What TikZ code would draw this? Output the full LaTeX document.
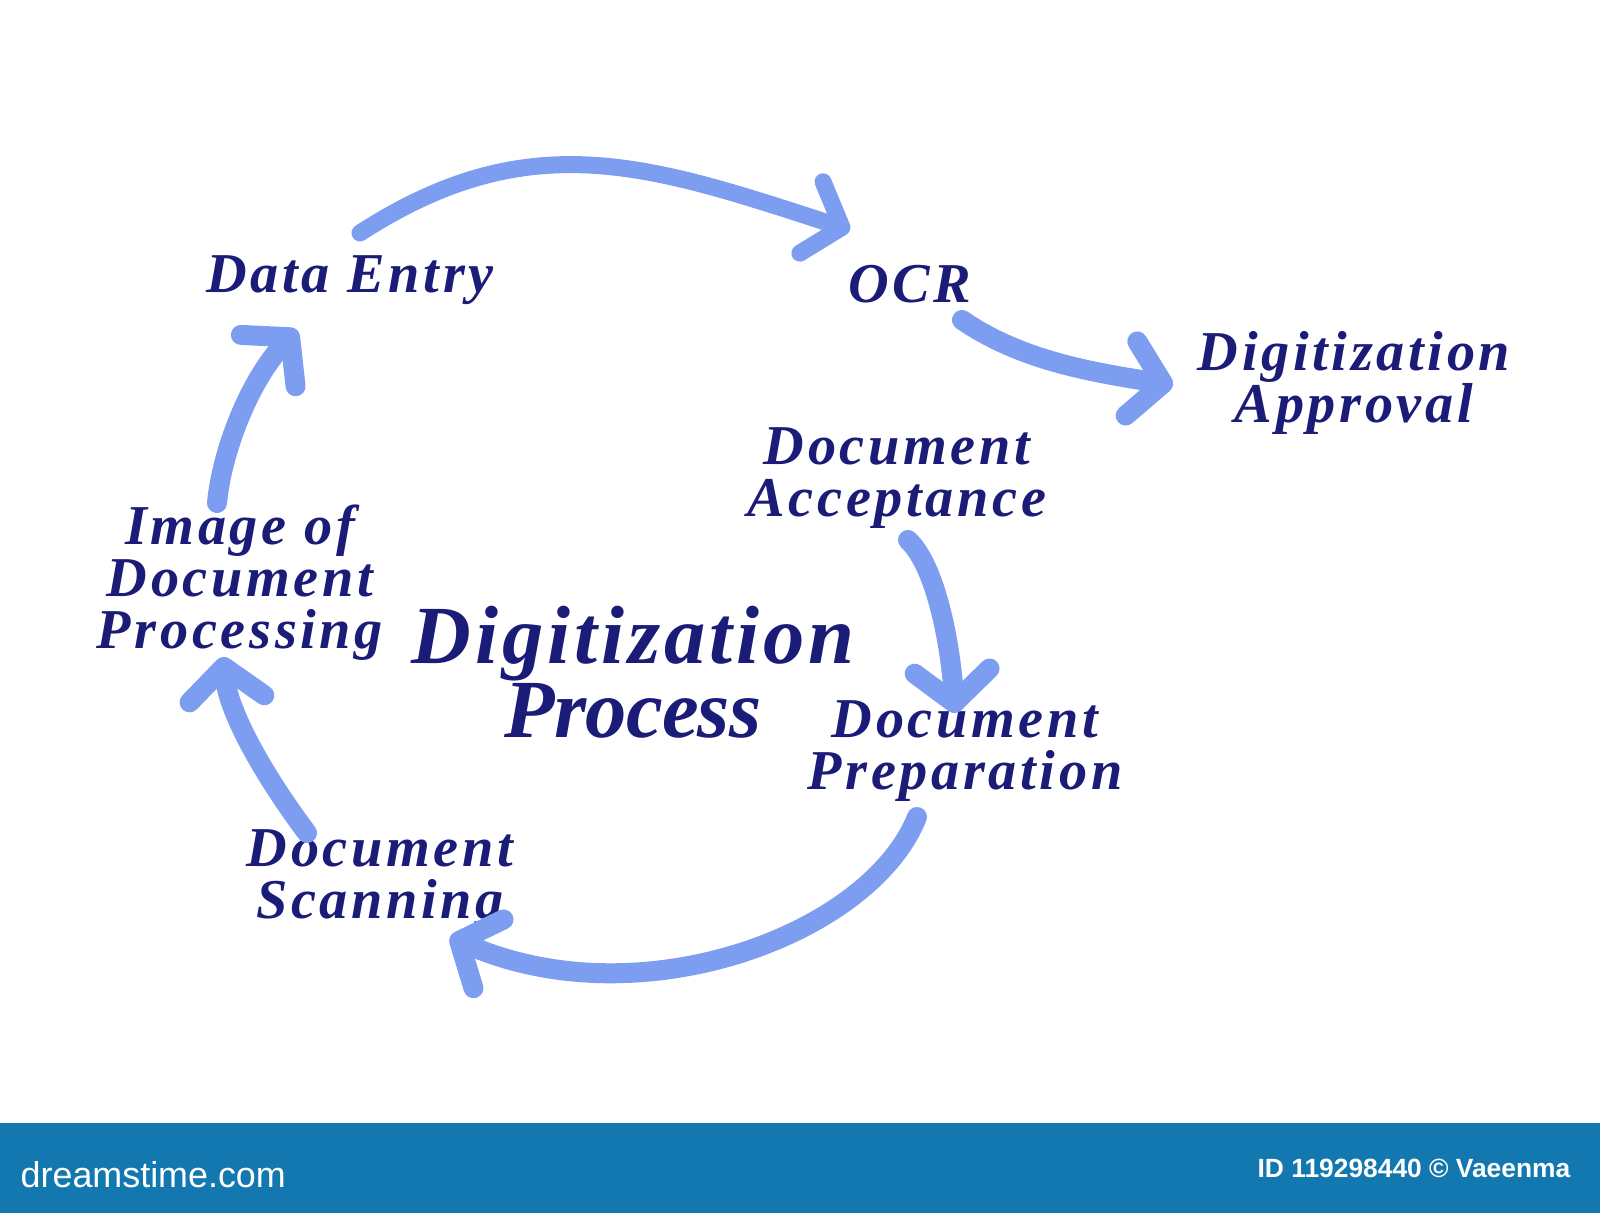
\documentclass[tikz,border=0pt]{standalone}
\usepackage{fontspec}
\setmainfont{Liberation Serif}
\newfontfamily\handfont[LetterSpace=6.5]{Liberation Serif}
\newfontfamily\titlefont[LetterSpace=4.75]{Liberation Serif}
\newfontfamily\titlefontb[LetterSpace=-1]{Liberation Serif}
\newfontfamily\barfont{Liberation Sans}
\usetikzlibrary{arrows.meta}
\definecolor{navy}{RGB}{27,27,120}
\definecolor{flowblue}{RGB}{125,157,240}
\definecolor{barblue}{RGB}{18,120,175}
\newcommand\steptext{\handfont\fontsize{16}{14.8}\selectfont\bfseries\itshape\lineskiplimit=-20pt\relax}
\newcommand\titletext{\titlefont\fontsize{23.5}{21}\selectfont\bfseries\itshape\lineskiplimit=-20pt\relax}

\begin{document}
\begin{tikzpicture}[x=0.01cm,y=-0.01cm,
  lbl/.style={text=navy,align=center,font=\steptext},
  flow/.style={draw=flowblue,line width=0.2cm,line cap=round,
    -{Straight Barb[round,length=0.32cm,width=0.75cm]}}]

\useasboundingbox (0,0) rectangle (1600,1213);

%steps of the cycle
\node [lbl] (de) at (350,280) {Data Entry};
\node [lbl] (ocr) at (910,284) {OCR};
\node [lbl] (appr) at (1354,383) {Digitization\\Approval};
\node [lbl] (acc) at (897,478) {Document\\Acceptance};
\node [lbl] (prep) at (965,751) {Document\\Preparation};
\node [lbl] (scan) at (380,880) {Document\\Scanning};
\node [lbl] (img) at (240,583) {Image of\\Document\\Processing};

%title
\node [lbl,font=\titletext] (title) at (633,672) {Digitization\\{\titlefontb\bfseries\itshape Process}};

%arrows between steps
\draw [flow,line width=0.17cm] ([shift={(10,-47)}]de.center) .. controls +(170,-110) and +(-200,-65) .. ([shift={(-60,-54)}]ocr.center);
\draw [flow] ([shift={(52,36)}]ocr.center) .. controls +(58,40) and +(-83,-13) .. ([shift={(-181,2)}]appr.center);
\draw [flow] ([shift={(11,62)}]acc.center) .. controls +(27,25) and +(-5,-73) .. ([shift={(-10,-38)}]prep.center);
\draw [flow] ([shift={(-48,66)}]prep.center) .. controls +(-47,118) and +(190,83) .. ([shift={(70,57)}]scan.center);
\draw [flow] ([shift={(-73,-47)}]scan.center) .. controls +(-47,-63) and +(5,53) .. ([shift={(-17,74)}]img.center);
\draw [flow] ([shift={(-23,-80)}]img.center) .. controls +(5,-53) and +(-47,50) .. ([shift={(-53,50)}]de.center);

%bottom bar
\fill [barblue] (0,1123) rectangle (1600,1213);
\node [white,font=\barfont\fontsize{10.2}{12}\selectfont,anchor=west,inner sep=0pt] (site) at (20,1175) {dreamstime.com};
\node [white,font=\barfont\bfseries\fontsize{7.5}{9}\selectfont,anchor=east,inner sep=0pt] (id) at (1571,1168) {ID 119298440 © Vaeenma};

\end{tikzpicture}
\end{document}
